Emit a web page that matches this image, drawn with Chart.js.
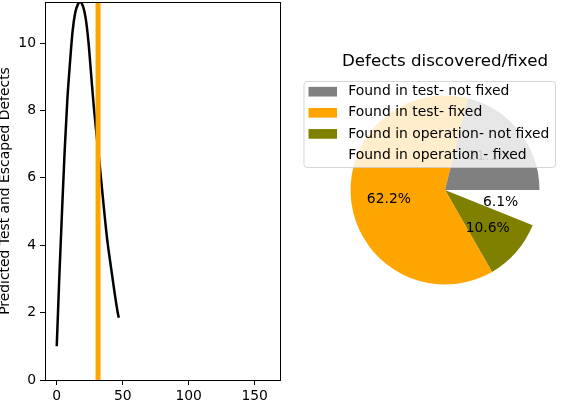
<!DOCTYPE html>
<html>
<head>
<meta charset="utf-8">
<script src="https://cdn.jsdelivr.net/npm/chart.js@4.4.1/dist/chart.umd.min.js"></script>
<style>
  body { margin: 0; background: #fff; }
  #wrap { position: relative; width: 585px; height: 405px; overflow: hidden; }
  #left { position: absolute; left: 0; top: 0; }
  #right { position: absolute; left: 290px; top: 0; }
</style>
</head>
<body>
<div id="wrap">
  <canvas id="left" width="290" height="405"></canvas>
  <canvas id="right" width="295" height="405"></canvas>
</div>
<script>
// left plot: predicted defects curve
const curveX = [0, 2, 4, 6, 8, 10, 12, 14, 16, 17.6, 20, 22, 24, 26, 28, 30, 32, 34, 36, 38, 40, 42, 44, 46, 47];
const curveY = [1.0, 3.1, 5.0, 6.8, 8.3, 9.4, 10.35, 10.9, 11.15, 11.22, 11.08, 10.72, 10.05, 9.1, 8.15, 7.35, 6.6, 5.8, 5.0, 4.25, 3.65, 3.1, 2.55, 2.05, 1.85];
const releaseX = 31.3;   // orange vertical line
const xTicks = [0, 50, 100, 150];
const yTicks = [0, 2, 4, 6, 8, 10];
const xMin = -8.9, xMax = 169.2, yMax = 11.22;

// right plot: pie
const pieLabels = ['Found in test- not fixed', 'Found in test- fixed', 'Found in operation- not fixed', 'Found in operation - fixed'];
const pieValues = [21.1, 62.2, 10.6, 6.1];
const pieColors = ['#808080', '#ffa500', '#808000', '#ffffff'];

Chart.defaults.font.family = 'DejaVu Sans';
Chart.defaults.color = '#000';

const FONT = 13.9;

// full box around the plot area, like matplotlib spines
const frame = {
  id: 'frame',
  afterDraw(chart) {
    const { ctx, chartArea: a } = chart;
    ctx.save();
    ctx.strokeStyle = '#000';
    ctx.lineWidth = 1;
    ctx.strokeRect(Math.round(a.left) + 0.5, Math.round(a.top) + 0.5,
      Math.round(a.right - a.left), Math.round(a.bottom - a.top));
    ctx.restore();
  }
};

function noPad(s) {
  s.paddingTop = 0; s.paddingBottom = 0; s.paddingLeft = 0; s.paddingRight = 0;
}

new Chart(document.getElementById('left'), {
  type: 'line',
  data: {
    datasets: [
      {
        data: [{ x: releaseX, y: 0 }, { x: releaseX, y: yMax }],
        borderColor: '#ffa500',
        borderWidth: 5,
        pointRadius: 0,
        order: 0
      },
      {
        data: curveX.map((x, i) => ({ x: x, y: curveY[i] })),
        borderColor: '#000',
        borderWidth: 2.5,
        pointRadius: 0,
        cubicInterpolationMode: 'monotone',
        order: 1
      }
    ]
  },
  options: {
    responsive: false,
    animation: false,
    events: [],
    layout: { padding: { top: 2, right: 10, left: 0, bottom: 0 } },
    plugins: { legend: { display: false }, tooltip: { enabled: false } },
    scales: {
      x: {
        type: 'linear',
        min: xMin,
        max: xMax,
        afterBuildTicks: s => { s.ticks = xTicks.map(v => ({ value: v })); },
        afterFit: s => { s.height = 25; noPad(s); },
        grid: { drawOnChartArea: false, color: '#000', tickLength: 5 },
        border: { color: '#000' },
        ticks: { font: { size: FONT }, color: '#000', padding: 3, maxRotation: 0 }
      },
      y: {
        min: 0,
        max: yMax,
        afterBuildTicks: s => { s.ticks = yTicks.map(v => ({ value: v })); },
        afterFit: s => { s.width = 45; noPad(s); },
        grid: { drawOnChartArea: false, color: '#000', tickLength: 5 },
        border: { color: '#000' },
        ticks: { font: { size: FONT }, color: '#000', padding: 4 },
        title: {
          display: true,
          text: 'Predicted Test and Escaped Defects',
          font: { size: FONT },
          color: '#000',
          padding: { top: -3, bottom: 0 }
        }
      }
    }
  },
  plugins: [frame]
});

// percentage labels at 0.6 radius, like autopct
const pctLabels = {
  id: 'pctLabels',
  afterDatasetsDraw(chart) {
    const ctx = chart.ctx;
    const meta = chart.getDatasetMeta(0);
    const vals = chart.data.datasets[0].data;
    ctx.save();
    ctx.font = FONT + 'px "DejaVu Sans"';
    ctx.fillStyle = '#000';
    ctx.textAlign = 'center';
    ctx.textBaseline = 'middle';
    meta.data.forEach((arc, i) => {
      const p = arc.getProps(['x', 'y', 'startAngle', 'endAngle', 'outerRadius'], true);
      const mid = (p.startAngle + p.endAngle) / 2;
      const r = 0.6 * p.outerRadius;
      ctx.fillText(vals[i].toFixed(1) + '%', p.x + r * Math.cos(mid), p.y + r * Math.sin(mid) + 1.5);
    });
    ctx.restore();
  }
};

// legend box drawn on top of the pie
const boxLegend = {
  id: 'boxLegend',
  afterDraw(chart) {
    const ctx = chart.ctx;
    const x = 14, y = 81.5, w = 251.5, h = 86, rad = 3;
    ctx.save();
    ctx.beginPath();
    ctx.moveTo(x + rad, y);
    ctx.lineTo(x + w - rad, y);
    ctx.quadraticCurveTo(x + w, y, x + w, y + rad);
    ctx.lineTo(x + w, y + h - rad);
    ctx.quadraticCurveTo(x + w, y + h, x + w - rad, y + h);
    ctx.lineTo(x + rad, y + h);
    ctx.quadraticCurveTo(x, y + h, x, y + h - rad);
    ctx.lineTo(x, y + rad);
    ctx.quadraticCurveTo(x, y, x + rad, y);
    ctx.closePath();
    ctx.fillStyle = 'rgba(255,255,255,0.8)';
    ctx.fill();
    ctx.strokeStyle = 'rgba(204,204,204,0.8)';
    ctx.lineWidth = 1;
    ctx.stroke();

    ctx.font = FONT + 'px "DejaVu Sans"';
    ctx.textAlign = 'left';
    ctx.textBaseline = 'middle';
    pieLabels.forEach((lab, i) => {
      const cy = 91.7 + i * 21.1;
      ctx.fillStyle = pieColors[i];
      ctx.fillRect(18.5, cy - 4.85, 28.5, 9.7);
      ctx.fillStyle = '#000';
      ctx.fillText(lab, 58.3, cy);
    });
    ctx.restore();
  }
};

// matplotlib goes counter-clockwise from 3 o'clock; Chart.js goes clockwise,
// so feed the slices reversed and start at 90 degrees
new Chart(document.getElementById('right'), {
  type: 'pie',
  data: {
    labels: pieLabels.slice().reverse(),
    datasets: [{
      data: pieValues.slice().reverse(),
      backgroundColor: pieColors.slice().reverse(),
      borderWidth: 0
    }]
  },
  options: {
    responsive: false,
    animation: false,
    events: [],
    rotation: 90,
    layout: { padding: { left: 15, right: 0, top: 0, bottom: 120.5 } },
    plugins: {
      legend: { display: false },
      tooltip: { enabled: false },
      title: {
        display: true,
        text: 'Defects discovered/fixed',
        color: '#000',
        font: { size: 16.7, weight: 'normal' },
        padding: { top: 52, bottom: 23.5 }
      }
    }
  },
  plugins: [pctLabels, boxLegend]
});
</script>
</body>
</html>
